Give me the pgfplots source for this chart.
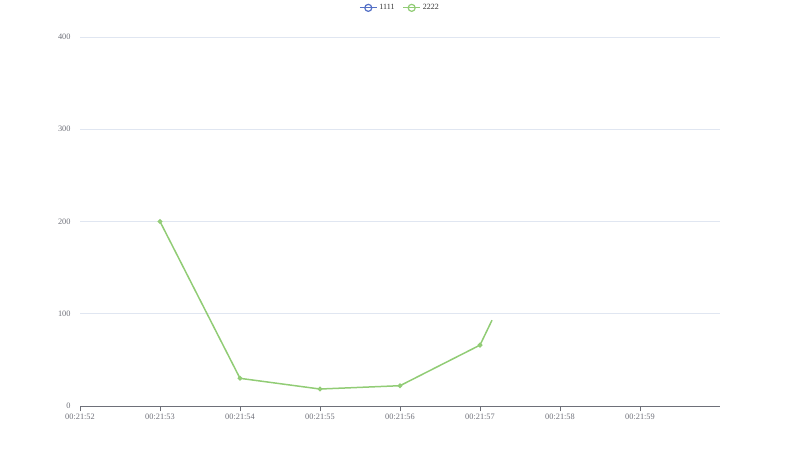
\documentclass[border=0pt]{standalone}
\usepackage{fontspec}
\setmainfont{Liberation Serif}
\usepackage{pgfplots}
\pgfplotsset{compat=1.18}
\definecolor{lblue}{HTML}{5470C6}
\definecolor{lgreen}{HTML}{91CC75}
\definecolor{axgray}{HTML}{6E7079}
\definecolor{gridc}{HTML}{E0E6F1}
\definecolor{legtext}{HTML}{333333}
\begin{document}
\begin{tikzpicture}
\useasboundingbox (-80pt,-44pt) rectangle (720pt,406pt);
\begin{axis}[
    at={(0pt,0pt)}, anchor=origin,
    scale only axis,
    width=640pt, height=369pt,
    xmin=52, xmax=60,
    ymin=0, ymax=400,
    xtick={52,53,54,55,56,57,58,59},
    xticklabels={00:21:52,00:21:53,00:21:54,00:21:55,00:21:56,00:21:57,00:21:58,00:21:59},
    ytick={0,100,200,300,400},
    axis x line*=bottom,
    axis y line*=left,
    y axis line style={draw=none},
    x axis line style={draw=axgray, line width=0.7pt},
    xtick style={draw=axgray, line width=0.7pt},
    ytick style={draw=none},
    major tick length=5pt,
    tick align=outside,
    ymajorgrids=true,
    grid style={gridc, line width=0.8pt},
    ticklabel style={font=\fontsize{8.3}{9}\selectfont, text=axgray},
    xticklabel style={yshift=1pt},
    yticklabel style={xshift=-1pt},
    /pgf/number format/assume math mode=true,
    legend style={at={(0.5,1.079)}, anchor=center, draw=none, fill=none,
        legend columns=2, font=\fontsize{8}{9}\selectfont, text=legtext,
        /tikz/every even column/.append style={column sep=6pt}},
    legend cell align=left,
    clip=false,
]
\addlegendimage{color=lblue, mark=o, mark size=3.5pt, line width=1.2pt, mark options={fill=white}}
\addlegendentry{1111}
\addlegendimage{color=lgreen, mark=o, mark size=3.5pt, line width=1.2pt, mark options={fill=white}}
\addlegendentry{2222}
\addplot[color=lgreen, line width=1.5pt, mark=*, mark size=1.6pt, mark options={fill=lgreen!60!white}, forget plot]
    coordinates {
    (53, 200)(54, 30)(55, 18.4)(56, 22)(57, 66)
    };
\addplot[color=lgreen, line width=1.5pt, forget plot]
    coordinates {
    (57, 66)(57.15, 93)
    };
\end{axis}
\end{tikzpicture}
\end{document}
